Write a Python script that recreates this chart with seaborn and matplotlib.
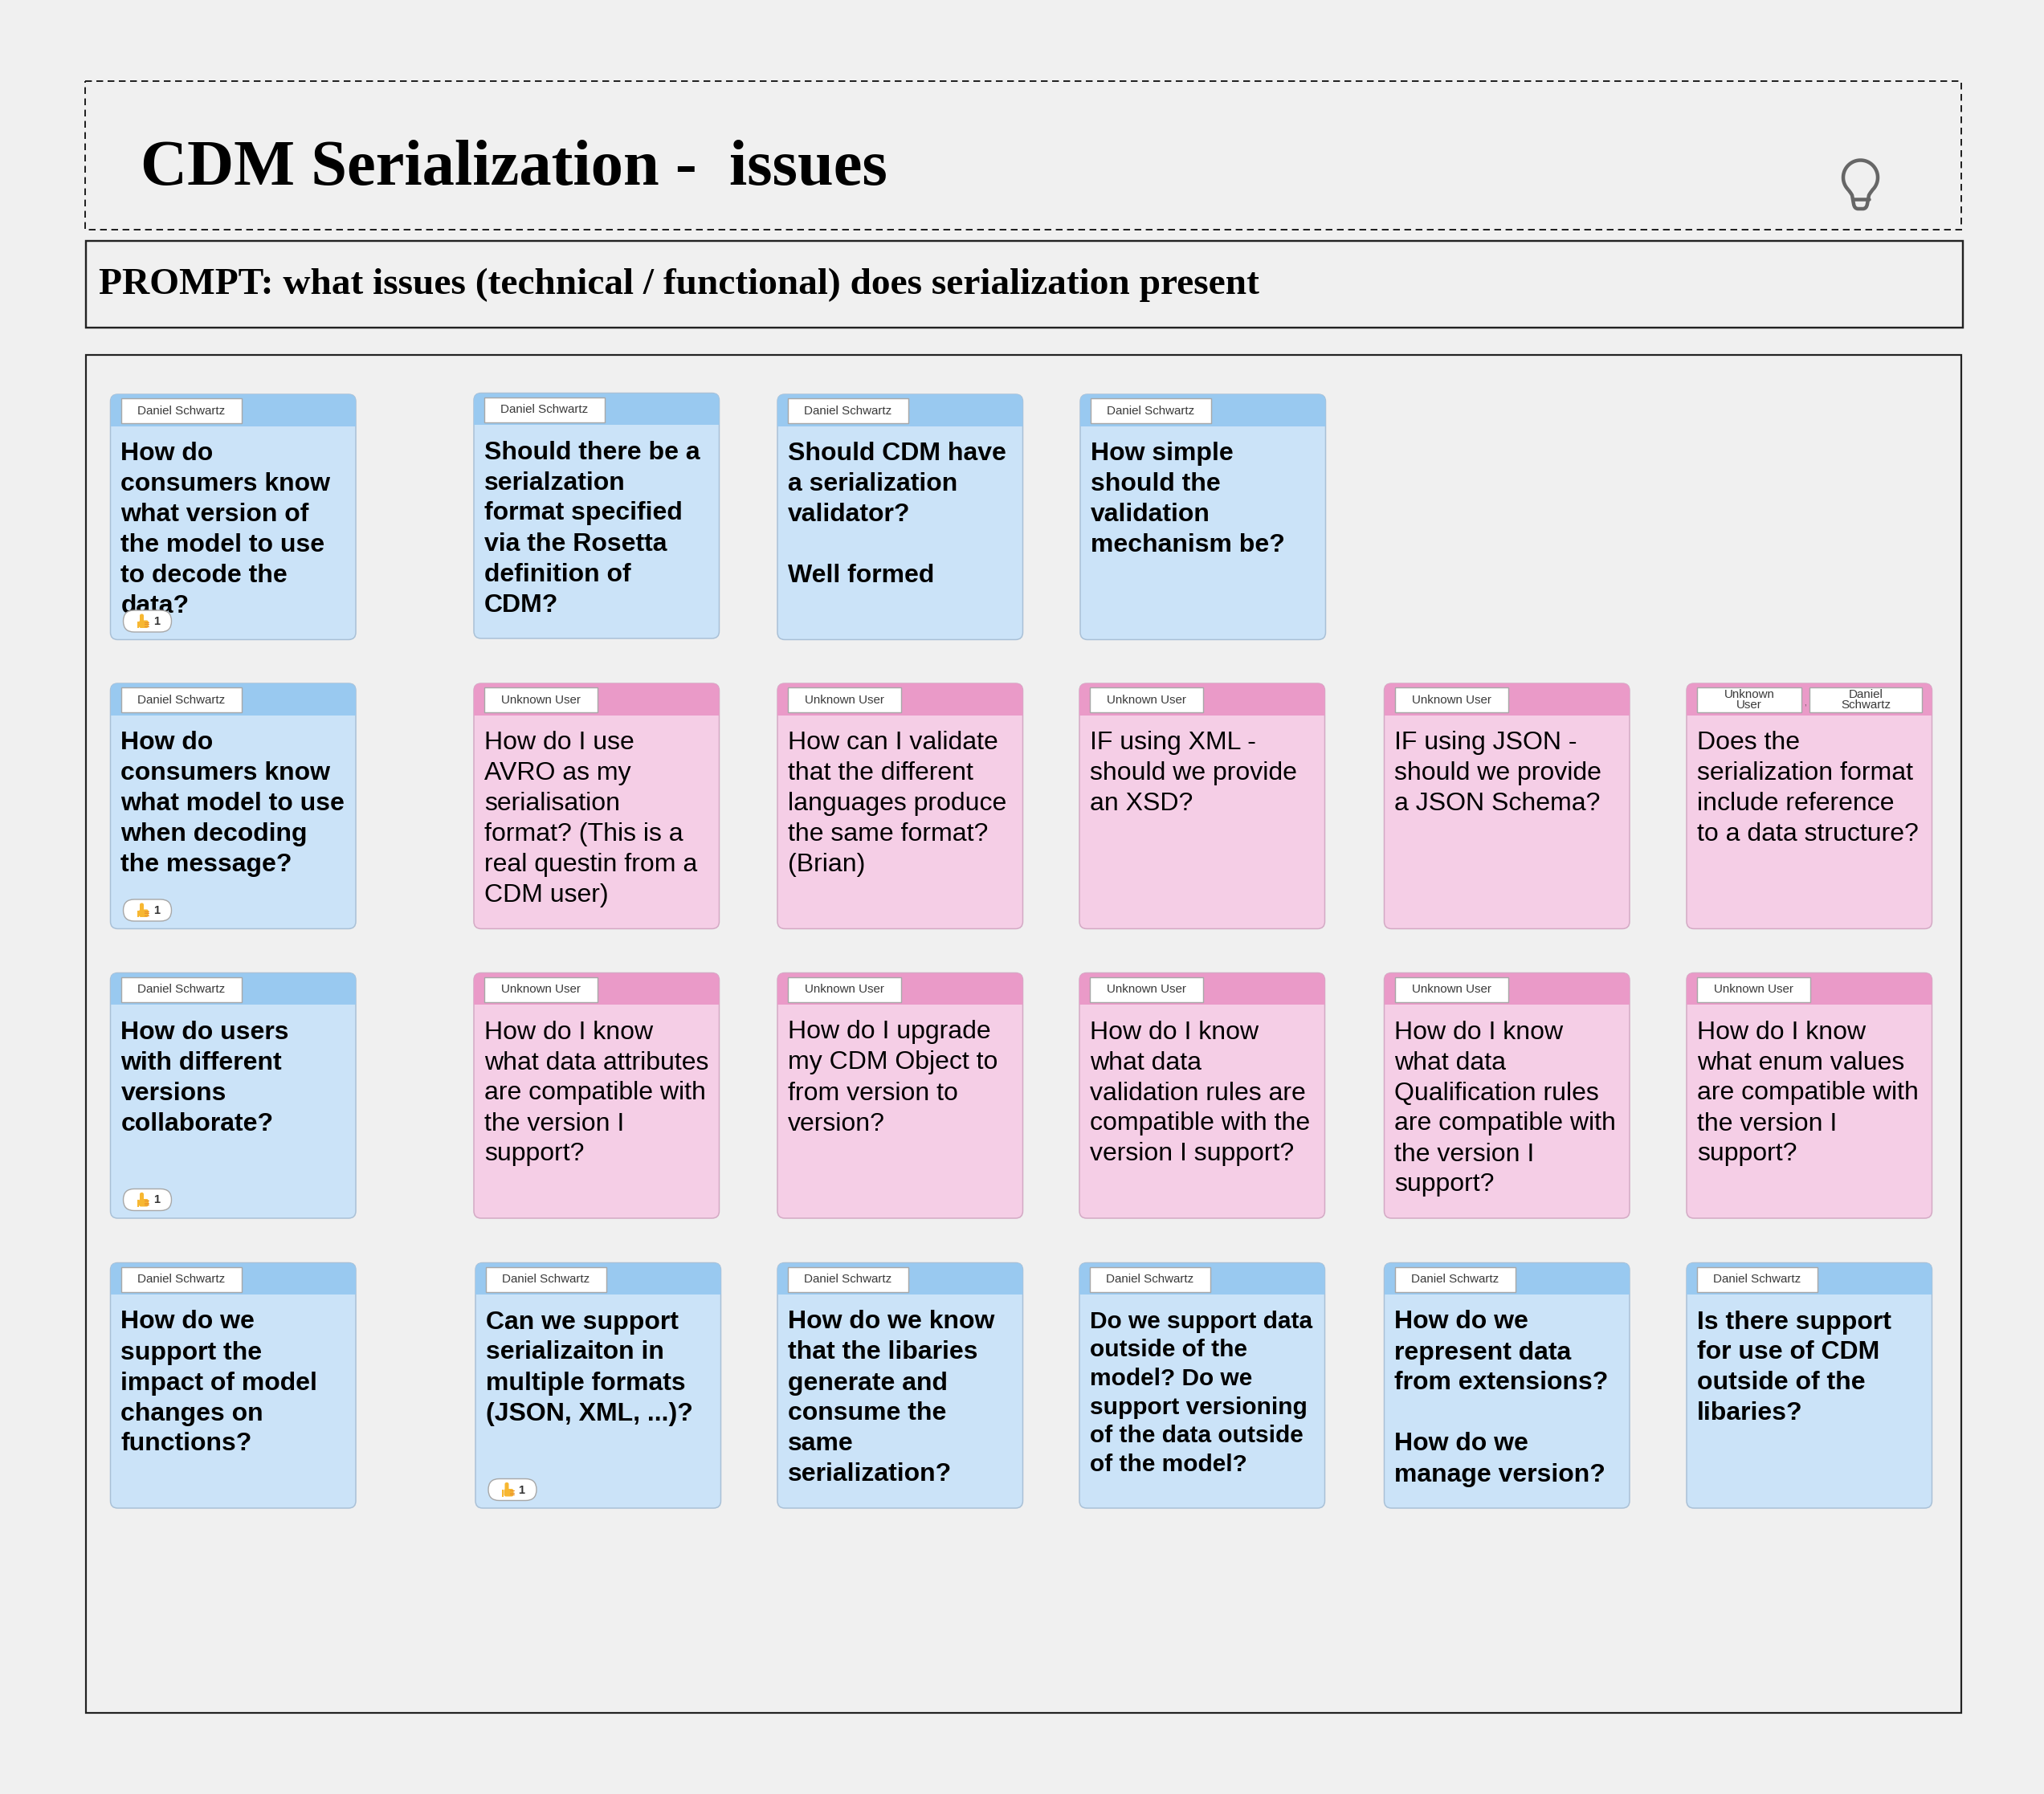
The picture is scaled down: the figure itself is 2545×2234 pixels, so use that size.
import numpy as np
import matplotlib
matplotlib.use("Agg")
import matplotlib.pyplot as plt
from matplotlib.patches import FancyBboxPatch, Rectangle, PathPatch
from matplotlib.path import Path
import seaborn as sns

# ---- content ----
TITLE = "CDM Serialization -  issues"
PROMPT = "PROMPT: what issues (technical / functional) does serialization present"
DS = "Daniel Schwartz"
UU = "Unknown User"

card_text = [
 ["How do\nconsumers know\nwhat version of\nthe model to use\nto decode the\ndata?",
  "Should there be a\nserialzation\nformat specified\nvia the Rosetta\ndefinition of\nCDM?",
  "Should CDM have\na serialization\nvalidator?\n\nWell formed",
  "How simple\nshould the\nvalidation\nmechanism be?"],
 ["How do\nconsumers know\nwhat model to use\nwhen decoding\nthe message?",
  "How do I use\nAVRO as my\nserialisation\nformat? (This is a\nreal questin from a\nCDM user)",
  "How can I validate\nthat the different\nlanguages produce\nthe same format?\n(Brian)",
  "IF using XML -\nshould we provide\nan XSD?",
  "IF using JSON -\nshould we provide\na JSON Schema?",
  "Does the\nserialization format\ninclude reference\nto a data structure?"],
 ["How do users\nwith different\nversions\ncollaborate?",
  "How do I know\nwhat data attributes\nare compatible with\nthe version I\nsupport?",
  "How do I upgrade\nmy CDM Object to\nfrom version to\nversion?",
  "How do I know\nwhat data\nvalidation rules are\ncompatible with the\nversion I support?",
  "How do I know\nwhat data\nQualification rules\nare compatible with\nthe version I\nsupport?",
  "How do I know\nwhat enum values\nare compatible with\nthe version I\nsupport?"],
 ["How do we\nsupport the\nimpact of model\nchanges on\nfunctions?",
  "Can we support\nserializaiton in\nmultiple formats\n(JSON, XML, ...)?",
  "How do we know\nthat the libaries\ngenerate and\nconsume the\nsame\nserialization?",
  "Do we support data\noutside of the\nmodel? Do we\nsupport versioning\nof the data outside\nof the model?",
  "How do we\nrepresent data\nfrom extensions?\n\nHow do we\nmanage version?",
  "Is there support\nfor use of CDM\noutside of the\nlibaries?"],
]
card_cols = [[0, 1, 2, 3], [0, 1, 2, 3, 4, 5], [0, 1, 2, 3, 4, 5], [0, 1, 2, 3, 4, 5]]
card_authors = [
 [[DS], [DS], [DS], [DS]],
 [[DS], [UU], [UU], [UU], [UU], ["Unknown\nUser", "Daniel\nSchwartz"]],
 [[DS], [UU], [UU], [UU], [UU], [UU]],
 [[DS], [DS], [DS], [DS], [DS], [DS]],
]
card_likes = [
 [1, 0, 0, 0],
 [1, 0, 0, 0, 0, 0],
 [1, 0, 0, 0, 0, 0],
 [0, 1, 0, 0, 0, 0],
]

# ---- layout (pixels) ----
W, H = 2545, 2234
COL_X = [137.5, 590, 968, 1344, 1723.5, 2100]
ROW_Y = [491, 851, 1211.5, 1572.5]
CARD = 305.5
HEAD = 39.5
NUDGE = {(0, 1): (0, -1.5), (3, 1): (2, 0), (0, 3): (1, 0)}
SMALL = {(3, 3)}

BG = "#F0F0F0"
BLUE_H, BLUE_B = "#99C9F0", "#CBE3F8"
PINK_H, PINK_B = "#EA9AC8", "#F5CEE6"
BLUE_E, PINK_E = "#A9C0D6", "#D3A9C4"

sns.set_theme(style="white", rc={"figure.facecolor": BG, "axes.facecolor": BG})
plt.rcParams["font.family"] = ["Liberation Sans", "DejaVu Sans"]

fig = plt.figure(figsize=(W / 100, H / 100), dpi=100, facecolor=BG)
ax = fig.add_axes([0, 0, 1, 1])
ax.set_xlim(0, W)
ax.set_ylim(H, 0)
ax.axis("off")
sns.despine(ax=ax, left=True, bottom=True)

PX = 0.72  # points per pixel

# frames
ax.add_patch(Rectangle((106, 100.5), 2336, 185, fill=False, ec="#222222", lw=2 * PX,
                       ls=(0, (4.2, 2.8))))
ax.add_patch(Rectangle((107, 300), 2336.5, 107.5, fill=False, ec="#222222", lw=2.4 * PX))
ax.add_patch(Rectangle((107, 442), 2335, 1691, fill=False, ec="#222222", lw=2.2 * PX))

ax.text(175, 230, TITLE, family="Liberation Serif", weight="bold", fontsize=57.95,
        color="black", va="baseline", ha="left")
ax.text(123, 366.5, PROMPT, family="Liberation Serif", weight="bold", fontsize=34.14,
        color="black", va="baseline", ha="left")

# light bulb icon
bx, by, br = 2316.5, 221, 21.5
t = np.radians(np.linspace(225, -45, 60))
arc = np.column_stack([bx + br * np.cos(t), by - br * np.sin(t)])
path_v = [tuple(p) for p in arc]
path_c = [Path.MOVETO] + [Path.LINETO] * (len(arc) - 1)
path_v += [(bx + 11.5, 241), (bx + 10.5, 243), (bx + 8.5, 254), (bx + 7.5, 260), (bx + 3, 260),
           (bx - 3, 260), (bx - 7.5, 260), (bx - 8.5, 254), (bx - 10.5, 243), (bx - 11.5, 241),
           tuple(arc[0])]
path_c += [Path.CURVE3, Path.CURVE3, Path.LINETO, Path.CURVE3, Path.CURVE3, Path.LINETO,
           Path.CURVE3, Path.CURVE3, Path.LINETO, Path.CURVE3, Path.CURVE3]
ax.add_patch(PathPatch(Path(path_v, path_c), fill=False, ec="#666666", lw=4.5 * PX,
                       joinstyle="round"))
ax.plot([bx - 10, bx + 10], [248, 248], color="#666666", lw=4.5 * PX)


def thumb(cx, cy):
    c = "#F7B731"
    z = 5.5
    ax.add_patch(FancyBboxPatch((cx - 4.5, cy - 0.5), 12, 9.5,
                                boxstyle="round,pad=0,rounding_size=2.5", fc=c, ec="none", zorder=z))
    ax.add_patch(Rectangle((cx - 7, cy + 0.5), 2.4, 8.5, fc=c, ec="none", zorder=z))
    ax.add_patch(FancyBboxPatch((cx - 3.5, cy - 8.5), 5, 10,
                                boxstyle="round,pad=0,rounding_size=2.2", fc=c, ec="none", zorder=z))
    for dy in (1.5, 4, 6.5):
        ax.plot([cx + 2.5, cx + 7.5], [cy + dy, cy + dy], color="#E8912D", lw=0.8, zorder=z + 0.1)


for r, row in enumerate(card_text):
    for i, txt in enumerate(row):
        c = card_cols[r][i]
        dx, dy = NUDGE.get((r, c), (0, 0))
        x, y = COL_X[c] + dx, ROW_Y[r] + dy
        authors = card_authors[r][i]
        pink = UU in authors[0] or "Unknown" in authors[0]
        head, body, edge = (PINK_H, PINK_B, PINK_E) if pink else (BLUE_H, BLUE_B, BLUE_E)
        box = FancyBboxPatch((x, y), CARD, CARD, boxstyle="round,pad=0,rounding_size=9",
                             fc=body, ec=edge, lw=1.5 * PX, zorder=2)
        ax.add_patch(box)
        hd = Rectangle((x, y), CARD, HEAD, fc=head, ec="none", zorder=2.1)
        ax.add_patch(hd)
        hd.set_clip_path(box)

        if len(authors) == 1:
            w = 150 if authors[0] == DS else 141
            chips = [(x + 13, w, authors[0])]
        else:
            chips = [(x + 13, 130, authors[0]), (x + 153, 140, authors[1])]
            ax.text(x + 147, y + 25, ",", fontsize=7, color="#444444", ha="center", va="center",
                    zorder=3)
        for cx, w, label in chips:
            ax.add_patch(Rectangle((cx, y + 5), w, 31, fc="white", ec="#A8A8A8", lw=1.4 * PX,
                                   zorder=3))
            ax.text(cx + w / 2, y + 20.5, label, fontsize=10.9, color="#3A3A3A", ha="center",
                    va="center", linespacing=0.95, zorder=3.1)

        small = (r, c) in SMALL
        fs, pitch, first = (21.5, 35.7, 81) if small else (23, 38, 82)
        for k, line in enumerate(txt.split("\n")):
            ax.text(x + 13, y + first + k * pitch, line, fontsize=fs,
                    color="black", weight="normal" if pink else "bold", va="baseline", ha="left",
                    zorder=4)

        if card_likes[r][i]:
            ax.add_patch(FancyBboxPatch((x + 16, y + 269), 60, 27,
                                        boxstyle="round,pad=0,rounding_size=13.5",
                                        fc="white", ec="#A8A8A8", lw=1.4 * PX, zorder=5))
            thumb(x + 40, y + 282)
            ax.text(x + 57.5, y + 283, str(card_likes[r][i]), fontsize=10.5, weight="bold",
                    color="#333333", ha="center", va="center", zorder=6)

fig.savefig("out.png", dpi=100, facecolor=BG)
